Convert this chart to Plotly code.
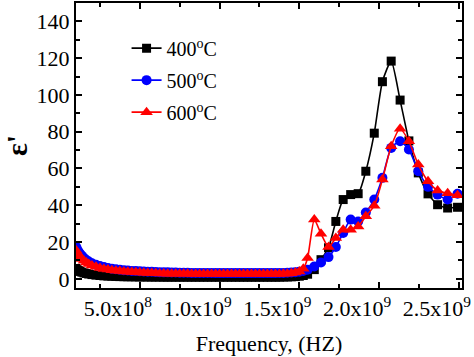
import plotly.graph_objects as go

# Frequency in units of 1e9 Hz
freq = [0.10, 0.106, 0.115, 0.125, 0.137, 0.15, 0.165, 0.18, 0.20, 0.225,
        0.25, 0.275, 0.30, 0.325, 0.35, 0.375, 0.40, 0.425, 0.45, 0.475,
        0.50, 0.525, 0.55, 0.575, 0.60, 0.625, 0.65, 0.675, 0.70, 0.725,
        0.75, 0.775, 0.80, 0.825, 0.85, 0.875, 0.90, 0.925, 0.95, 0.975,
        1.00, 1.025, 1.05, 1.075, 1.10, 1.125, 1.15, 1.175, 1.20, 1.225,
        1.25, 1.275, 1.30, 1.325, 1.35, 1.375, 1.40, 1.425, 1.45, 1.475,
        1.50, 1.525, 1.552, 1.594, 1.636, 1.683, 1.729, 1.775, 1.822, 1.869,
        1.917, 1.970, 2.021, 2.076, 2.132, 2.187, 2.246, 2.307, 2.367, 2.430,
        2.492]

eps_400 = [5.6, 5.0, 4.5, 4.0, 3.6, 3.2, 2.9, 2.6, 2.3, 2.0,
           1.8, 1.6, 1.5, 1.4, 1.3, 1.2, 1.15, 1.1, 1.1, 1.05,
           1.0, 1.0, 1.0, 0.95, 0.95, 0.95, 0.9, 0.9, 0.9, 0.9,
           0.9, 0.9, 0.9, 0.9, 0.9, 0.9, 0.9, 0.9, 0.9, 0.9,
           0.9, 0.9, 0.9, 0.9, 0.9, 0.9, 0.9, 0.9, 0.9, 0.9,
           0.9, 0.9, 0.9, 0.9, 0.9, 0.9, 1.0, 1.0, 1.1, 1.2,
           1.4, 1.8, 2.5, 5.0, 10.4, 16.9, 31.2, 43.1, 45.8, 46.3,
           58.5, 79.2, 107.2, 118.4, 97.2, 75.0, 57.6, 46.2, 40.3, 38.5,
           38.9]

eps_500 = [17.5, 16.3, 15.0, 13.8, 12.5, 11.3, 10.2, 9.4, 8.5, 7.6,
           7.0, 6.4, 5.9, 5.5, 5.2, 4.9, 4.7, 4.5, 4.3, 4.2,
           4.1, 4.0, 3.9, 3.8, 3.7, 3.6, 3.5, 3.5, 3.4, 3.4,
           3.3, 3.3, 3.3, 3.2, 3.2, 3.2, 3.2, 3.2, 3.2, 3.1,
           3.1, 3.1, 3.1, 3.1, 3.1, 3.1, 3.1, 3.1, 3.1, 3.1,
           3.1, 3.1, 3.1, 3.1, 3.1, 3.2, 3.2, 3.3, 3.4, 3.6,
           3.8, 4.2, 4.9, 6.7, 8.9, 11.8, 17.3, 24.9, 32.2, 31.2,
           36.1, 43.1, 54.9, 71.2, 74.8, 70.3, 58.5, 50.0, 45.8, 43.1,
           46.3]

eps_600 = [15.5, 14.5, 13.2, 12.0, 10.8, 9.8, 8.9, 8.1, 7.3, 6.5,
           5.9, 5.4, 5.0, 4.7, 4.4, 4.2, 4.0, 3.8, 3.7, 3.5,
           3.4, 3.3, 3.2, 3.1, 3.0, 2.9, 2.9, 2.8, 2.8, 2.7,
           2.7, 2.7, 2.7, 2.6, 2.6, 2.6, 2.6, 2.6, 2.6, 2.6,
           2.6, 2.6, 2.6, 2.6, 2.6, 2.6, 2.6, 2.6, 2.6, 2.6,
           2.6, 2.6, 2.6, 2.6, 2.6, 2.6, 2.7, 2.8, 3.0, 3.4,
           4.0, 5.5, 11.3, 32.2, 24.5, 17.3, 22.2, 26.7, 26.7, 28.5,
           34.0, 39.8, 54.0, 72.1, 81.6, 74.8, 62.1, 53.0, 48.0, 46.5,
           45.5]

series_names = ["400<sup>o</sup>C", "500<sup>o</sup>C", "600<sup>o</sup>C"]
series_colors = ["#000000", "#0000ff", "#ff0000"]
series_symbols = ["square", "circle", "triangle-up"]
series_sizes = [9, 10, 11]

x_tickvals = [0.5, 1.0, 1.5, 2.0, 2.5]
x_ticktext = ["5.0x10<sup>8</sup>", "1.0x10<sup>9</sup>", "1.5x10<sup>9</sup>",
              "2.0x10<sup>9</sup>", "2.5x10<sup>9</sup>"]
y_tickvals = [0, 20, 40, 60, 80, 100, 120, 140]

FONT = "Liberation Serif, Times New Roman, serif"

fig = go.Figure()
for ys, name, col, sym, sz in zip([eps_400, eps_500, eps_600], series_names,
                                  series_colors, series_symbols, series_sizes):
    fig.add_trace(go.Scatter(
        x=freq, y=ys, name=name, mode="lines+markers",
        line=dict(color=col, width=1.6, shape="spline", smoothing=0.6),
        marker=dict(color=col, symbol=sym, size=sz),
        legendgroup=name,
    ))

axis_common = dict(
    showline=True, linecolor="black", linewidth=2, mirror="allticks",
    ticks="inside", tickcolor="black", tickwidth=1.5, ticklen=6,
    showgrid=False, zeroline=False, automargin=False,
    ticklabeloverflow="allow",
    tickfont=dict(family=FONT, size=22, color="black"),
)

fig.update_xaxes(
    range=[0.1, 2.52], tickvals=x_tickvals, ticktext=x_ticktext,
    ticklabelshift=-22,
    minor=dict(ticks="inside", dtick=0.25, tick0=0, ticklen=4, tickcolor="black", tickwidth=1.5),
    title=dict(text="Frequency, (HZ)", font=dict(family=FONT, size=22, color="black"), standoff=15),
    **axis_common,
)
fig.update_yaxes(
    range=[-5, 150], tickvals=y_tickvals,
    minor=dict(ticks="inside", dtick=10, tick0=0, ticklen=4, tickcolor="black", tickwidth=1.5),
    title=dict(text="<b>ε'</b>", font=dict(family=FONT, size=30, color="black"), standoff=12),
    **axis_common,
)

fig.update_layout(
    width=474, height=357, autosize=False,
    margin=dict(l=76, r=12, t=3, b=69, pad=0),
    paper_bgcolor="white", plot_bgcolor="white",
    font=dict(family=FONT, color="black"),
    legend=dict(x=0.131, y=0.91, xanchor="left", yanchor="top",
                bgcolor="rgba(0,0,0,0)", borderwidth=0,
                font=dict(family=FONT, size=20, color="black"),
                traceorder="grouped", tracegroupgap=3),
    showlegend=True,
)

fig.write_html("out.html", config={"displayModeBar": False},
               post_script="document.body.style.margin='0px';")
